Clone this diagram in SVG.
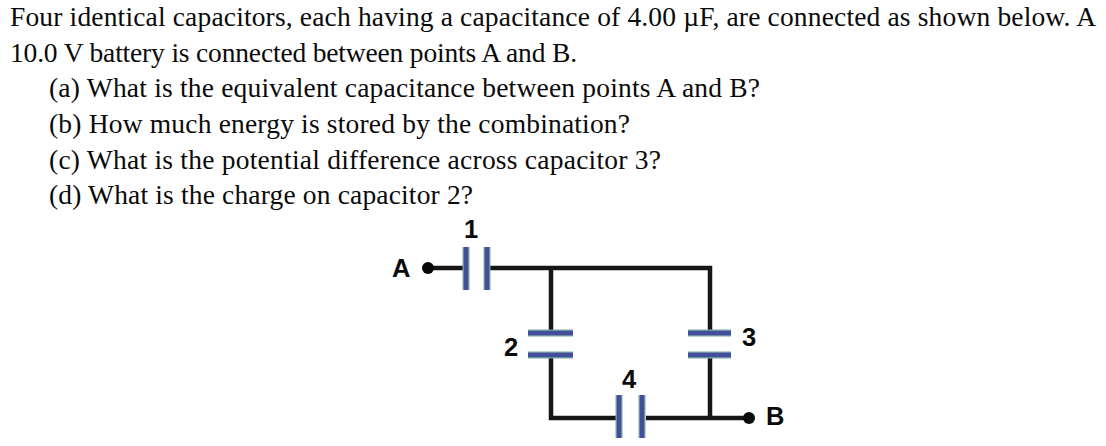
<svg xmlns="http://www.w3.org/2000/svg" width="1106" height="446" viewBox="0 0 1106 446">
<style>
.t{font-family:"Liberation Serif","Times New Roman",serif;font-size:27.5px;fill:#0a0a0a}
.l{font-family:"Liberation Sans",Arial,sans-serif;font-size:25.5px;font-weight:bold;fill:#0a0a0a}
.w{stroke:#161616;stroke-width:4.5;fill:none}
.o{stroke:#7fa3a8;stroke-width:7;fill:none}
.p{stroke:#444f9c;stroke-width:4.5;fill:none}
.d{fill:#0a0a0a}
</style>
<rect width="1106" height="446" fill="#fff"/>
<g id="question">
<text class="t" x="10" y="26" textLength="1086" lengthAdjust="spacing">Four identical capacitors, each having a capacitance of 4.00 µF, are connected as shown below. A</text>
<text class="t" x="10" y="62" textLength="567" lengthAdjust="spacing">10.0 V battery is connected between points A and B.</text>
<text class="t" x="49" y="97" textLength="711" lengthAdjust="spacing">(a) What is the equivalent capacitance between points A and B?</text>
<text class="t" x="49" y="133" textLength="581" lengthAdjust="spacing">(b) How much energy is stored by the combination?</text>
<text class="t" x="49" y="169" textLength="612" lengthAdjust="spacing">(c) What is the potential difference across capacitor 3?</text>
<text class="t" x="49" y="204" textLength="424" lengthAdjust="spacing">(d) What is the charge on capacitor 2?</text>
</g>
<g id="connectors">
<path class="w" d="M428 268H464M490 268H710V333M551 268V333M551 355V418H617M646 418H749M710 355V418"/>
</g>
<g id="node-A"><circle class="d" cx="428" cy="268" r="6"/><text class="l" x="392" y="277">A</text></g>
<g id="node-B"><circle class="d" cx="749" cy="418" r="6"/><text class="l" x="766" y="425">B</text></g>
<g id="cap-1"><path class="o" d="M466 247V290M487 247V290"/><path class="p" d="M466 247V290M487 247V290"/><text class="l" x="464" y="238">1</text></g>
<g id="cap-2"><path class="o" d="M528 333H573M528 355H573"/><path class="p" d="M528 333H573M528 355H573"/><text class="l" x="504" y="356">2</text></g>
<g id="cap-3"><path class="o" d="M688 333H731M688 355H731"/><path class="p" d="M688 333H731M688 355H731"/><text class="l" x="742" y="346">3</text></g>
<g id="cap-4"><path class="o" d="M619 395V438M642 395V438"/><path class="p" d="M619 395V438M642 395V438"/><text class="l" x="622" y="388">4</text></g>
</svg>
